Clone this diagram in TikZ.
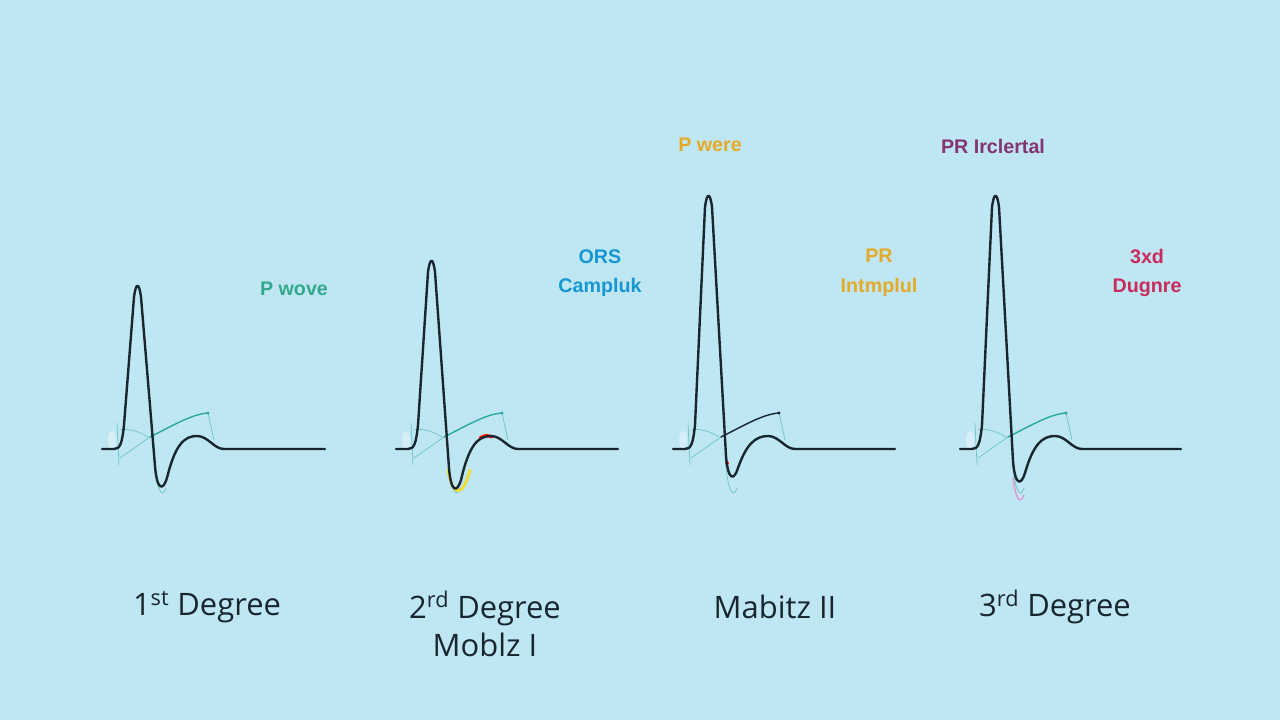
\documentclass[tikz,border=0pt]{standalone}
\usepackage{fontspec}
\setmainfont{Open Sans}
\newfontfamily\tagfont{Liberation Sans}
\definecolor{bgblue}{RGB}{191,230,243}
\definecolor{ecgdark}{RGB}{24,38,48}
\definecolor{pgreen}{RGB}{52,168,140}
\definecolor{qrsblue}{RGB}{22,150,210}
\definecolor{pgold}{RGB}{228,170,40}
\definecolor{prpurple}{RGB}{132,52,112}
\definecolor{degred}{RGB}{202,42,92}
\definecolor{overteal}{RGB}{40,170,160}
\tikzset{
  trace/.style={line width=1.7pt,draw=ecgdark,line join=round,line cap=round},
  overlay/.style={line width=1pt,line cap=round},
  faint/.style={line width=0.5pt,draw=overteal,opacity=0.55},
  tag/.style={font=\tagfont\bfseries\fontsize{14}{21}\selectfont,align=center,inner sep=0pt},
  deg/.style={font=\fontsize{22}{27}\selectfont,text=ecgdark,align=center,inner sep=0pt}
}
\begin{document}
\begin{tikzpicture}[x=0.025cm,y=-0.025cm]
		% background
		\fill[bgblue] (0,0) rectangle (1280,720);
		\useasboundingbox (0,0) rectangle (1280,720);
		% faint overlays under the traces
		\foreach \s/\oc in {102/overteal,396/overteal,673/ecgdark,960/overteal}{
			\begin{scope}[shift={(\s,0)}]
			\fill[white,opacity=0.35] (10,440) ellipse (4 and 9);
			\draw[faint] (15,423) -- (17,465);
			\draw[faint] (18,458) -- (48,437);
			\draw[faint] (18,430) .. controls (28,428) and (38,432) .. (46,437);
			\draw[faint] (106,413) -- (112,440);
			\draw[faint] (52,455) .. controls (54,490) and (60,500) .. (64,488);
			\draw[overlay,draw=\oc] (48,437) .. controls (70,426) and (90,414) .. (106,413);
			\fill[\oc] (106,413) circle (1.6);
			\end{scope}
		}
		% colour marks
		\draw[overlay,draw=yellow!80!orange,opacity=0.8,line width=2pt] (448,470) .. controls (452,495) and (462,500) .. (470,470);
		\draw[overlay,draw=red!80!orange,line width=2.2pt] (480,438) .. controls (484,435) and (488,435) .. (492,437);
		\fill[red!70!orange] (727,463) circle (2);
		\draw[overlay,draw=magenta!60,opacity=0.6] (1013,478) .. controls (1016,500) and (1020,505) .. (1024,495);
		% ECG traces
		\foreach \s/\pk/\tr/\w in {102/285/488/325,396/260/490/618,673/195/478/895,960/195/483/1181}{
			\draw[trace] (\s,449) -- ++(12,0)
				.. controls +(6,0) and +(-2,19) .. ++(10,-24)
				-- ({\s+32},{\pk+12})
				.. controls ({\s+34},{\pk-3}) and ({\s+37},{\pk-3}) .. ({\s+39},{\pk+12})
				-- ({\s+53},{\tr-22})
				.. controls ({\s+55},{\tr+3}) and ({\s+61},{\tr+3}) .. ({\s+65},{\tr-10})
				.. controls ({\s+73},445) and ({\s+82},436) .. ({\s+95},436)
				.. controls ({\s+106},436) and ({\s+112},449) .. ({\s+122},449)
				-- (\w,449);
		}
		% wave labels
		\node[tag,text=pgreen] (pwave1) at (294,289) {P wove};
		\node[tag,text=qrsblue] (qrs) at (600,273) {ORS\\Campluk};
		\node[tag,text=pgold] (pwave2) at (710,145) {P were};
		\node[tag,text=prpurple] (print1) at (993,146) {PR Irclertal};
		\node[tag,text=pgold] (print2) at (879,273) {PR\\Intmplul};
		\node[tag,text=degred] (third) at (1147,273) {3xd\\Dugnre};
		% block names
		\node[deg] (first) at (207,607) {1\textsuperscript{st} Degree};
		\node[deg,anchor=north] (second) at (485,591) {2\textsuperscript{rd} Degree\\Moblz I};
		\node[deg] (mobitz) at (775,607) {Mabitz II};
		\node[deg] (complete) at (1055,607) {3\textsuperscript{rd} Degree};
\end{tikzpicture}
\end{document}
